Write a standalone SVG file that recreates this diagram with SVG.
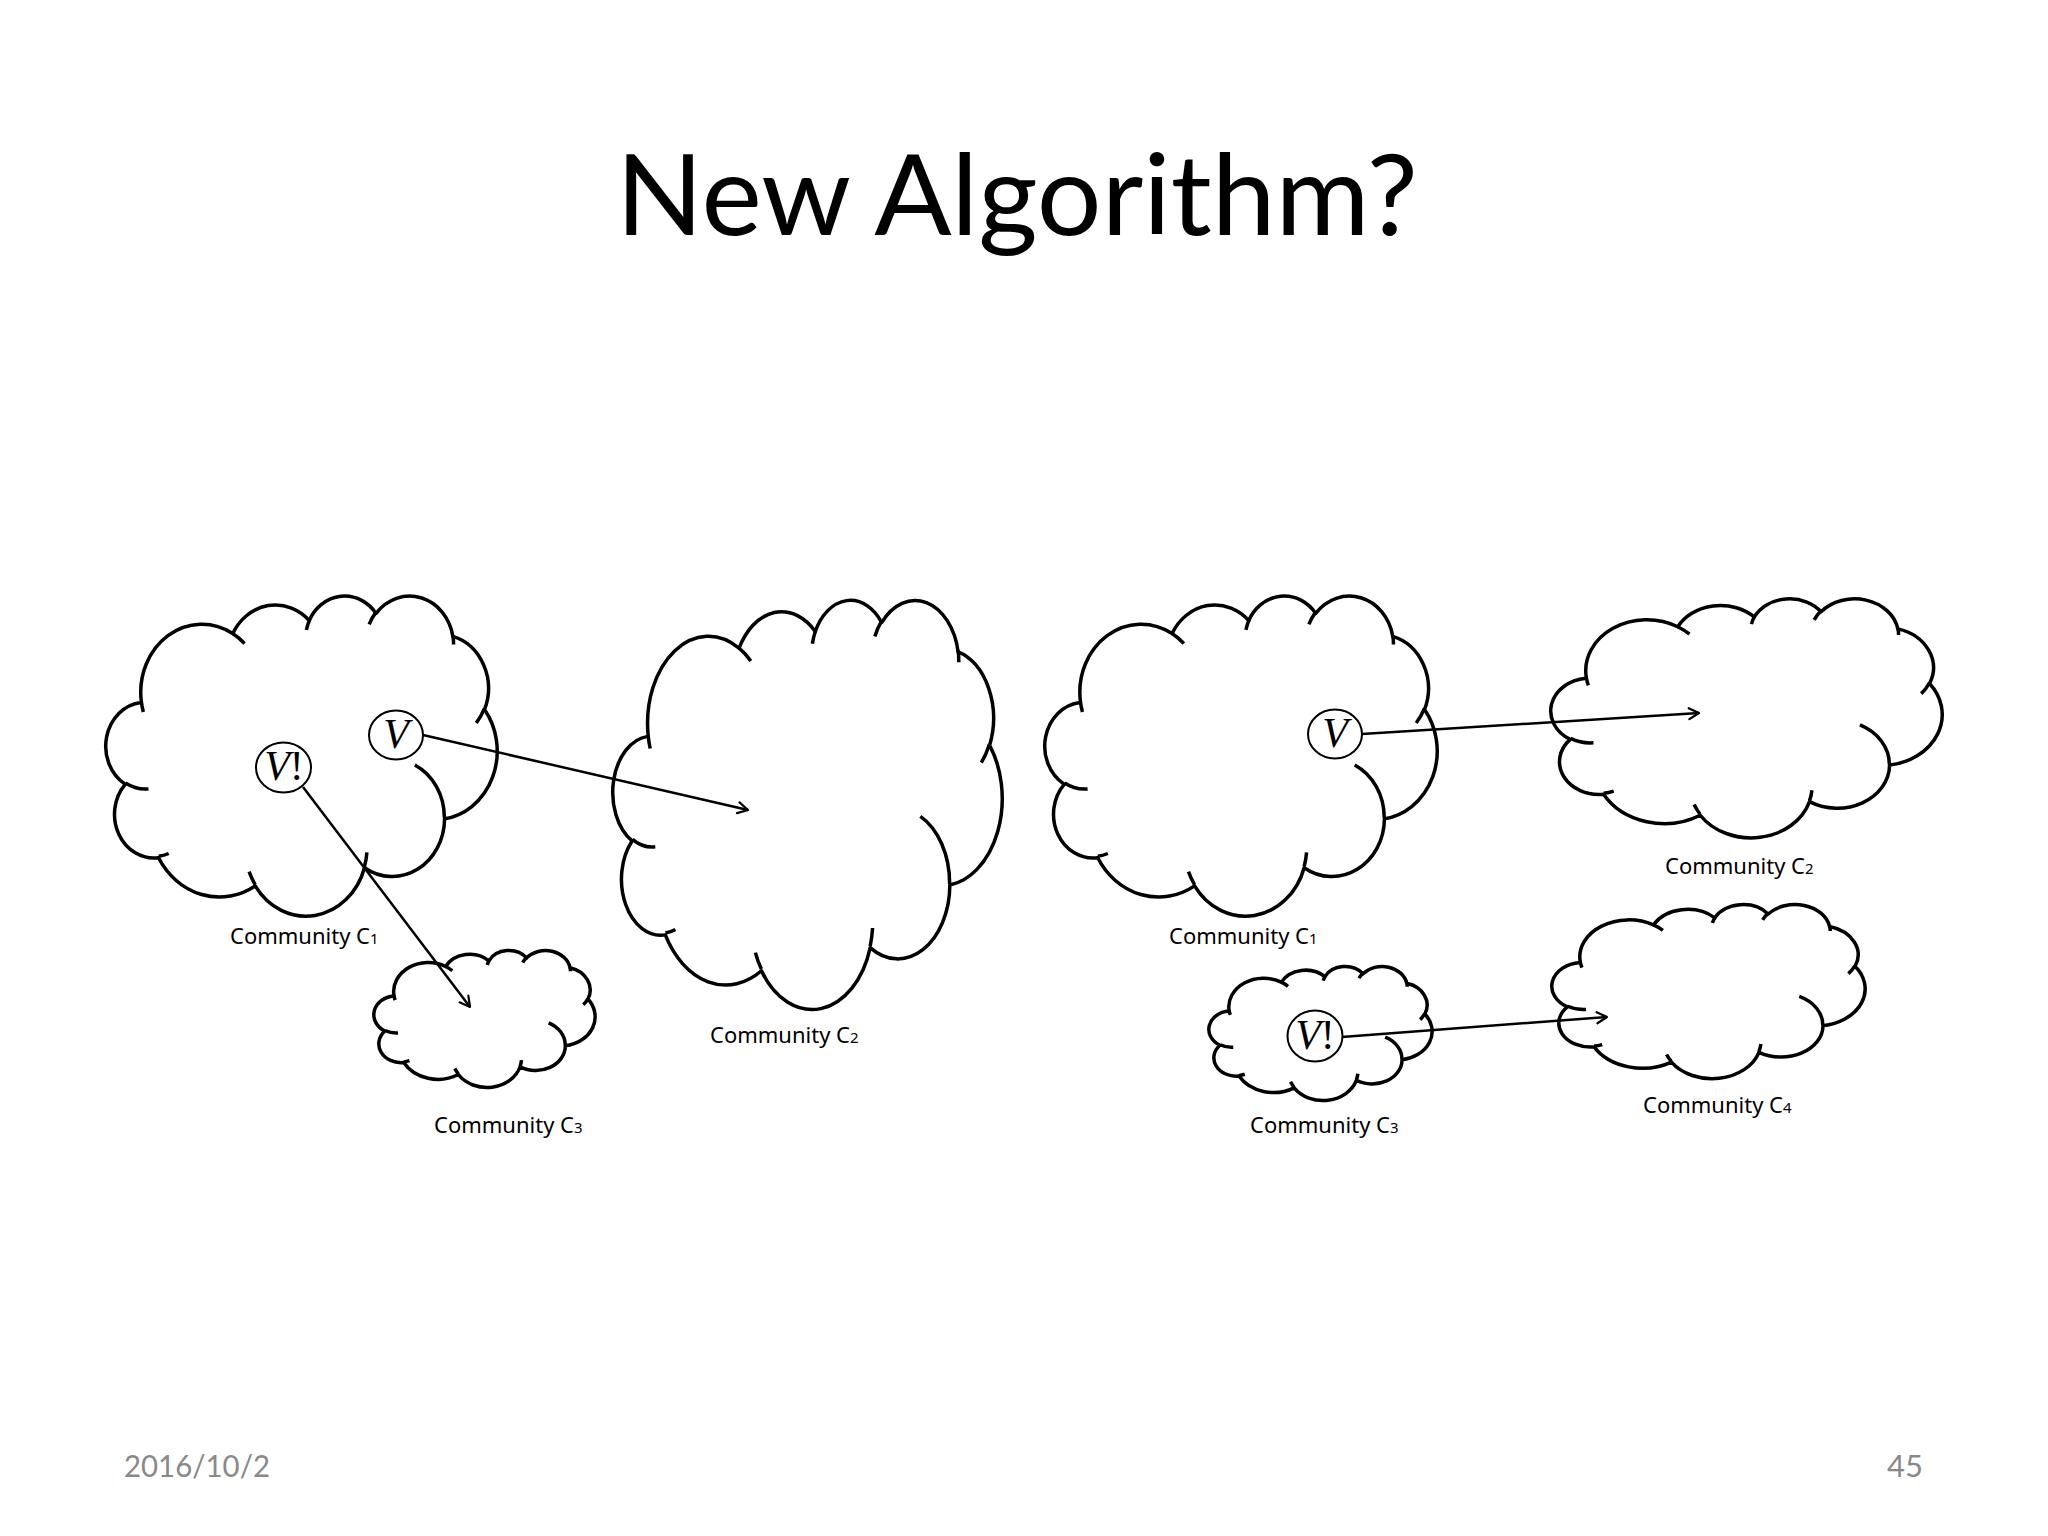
<svg xmlns="http://www.w3.org/2000/svg" xmlns:xlink="http://www.w3.org/1999/xlink" width="2048" height="1536" viewBox="0 0 2048 1536">
  <style>
    .cloud { fill: #ffffff; stroke: #000000; stroke-width: 3.5; vector-effect: non-scaling-stroke; stroke-linejoin: round; }
    .inner { fill: none; stroke: #000000; stroke-width: 3.5; vector-effect: non-scaling-stroke; }
    .node { fill: #ffffff; stroke: #000000; stroke-width: 2; }
    .nlabel { font-family: "Liberation Serif", "Times New Roman", serif; font-size: 42px; fill: #000000; }
    .label { font-family: "Noto Sans", "Liberation Sans", sans-serif; font-size: 22px; fill: #000000; }
    .sub { font-size: 15px; }
    .edge { fill: none; stroke: #000000; stroke-width: 2.5; marker-end: url(#arrow); }
    .foot { font-family: Lato, "Liberation Sans", sans-serif; font-size: 31px; fill: #898989; }
  </style>
  <defs>
    <marker id="arrow" viewBox="0 0 14 14" refX="12" refY="7" markerWidth="14" markerHeight="14" markerUnits="userSpaceOnUse" orient="auto">
      <path d="M2,1.5 L12,7 L2,12.5" fill="none" stroke="#000000" stroke-width="2.2" stroke-linecap="round" stroke-linejoin="round"/>
    </marker>
    <path id="cloudBody" class="cloud" d="M39 143.7 A67.53 91.9 0 0 1 140.05 52.02 A53.33 72.67 0 0 1 224.59 34.36 A43.65 59.45 0 0 1 298.36 24.84 A48.57 65.95 0 0 1 383.22 55.79 A53.33 72.73 0 0 1 418.22 154.63 A67.75 92.2 0 0 1 374.08 302.07 A57.85 78.67 0 0 1 285.6 368.18 A67.52 92.15 0 0 1 164.85 392.69 A77.2 105.43 0 0 1 58.08 354.76 A43.6 59.18 0 0 1 21.17 255.53 A43.45 59.45 0 0 1 38.67 145.1 Z"/>
    <path id="cloudInner" class="inner" d="M46.93 261.77 A43.45 59.45 0 0 1 21.6 253.8 M69.28 348.99 A43.6 59.18 0 0 1 58.2 352.81 M164.78 390.9 A67.52 92.15 0 0 1 158.1 373.48 M288.27 347.51 A67.52 92.15 0 0 1 285.6 366.6 M341.29 229.54 A57.85 78.67 0 0 1 373.81 300.9 M417.98 153.54 A53.33 72.73 0 0 1 409.06 172.83 M383.24 54.26 A48.57 65.95 0 0 1 384.0 66.9 M290.78 39.52 A48.57 65.95 0 0 1 298.2 23.4 M221.41 47.2 A43.65 59.45 0 0 1 225.0 33.31 M140.0 51.92 A67.53 91.9 0 0 1 153.04 65.46 M41.27 157.89 A67.53 91.9 0 0 1 39.0 143.7"/>
  </defs>

  <rect x="0" y="0" width="2048" height="1536" fill="#ffffff"/>

  <text x="616" y="235" textLength="802" lengthAdjust="spacingAndGlyphs" font-family="Lato, 'Liberation Sans', sans-serif" font-size="113" fill="#000000">New Algorithm?</text>

  <!-- Left diagram -->
  <g id="cloud-left-c1" transform="translate(106,595) scale(0.9051,0.7407)">
    <use xlink:href="#cloudBody"/>
    <use xlink:href="#cloudInner"/>
  </g>
  <g id="cloud-left-c2" transform="translate(613,599) scale(0.9005,0.9468)">
    <use xlink:href="#cloudBody"/>
    <use xlink:href="#cloudInner"/>
  </g>
  <g id="cloud-left-c3" transform="translate(374,950) scale(0.5116,0.3171)">
    <use xlink:href="#cloudBody"/>
    <use xlink:href="#cloudInner"/>
  </g>

  <!-- Right diagram -->
  <g id="cloud-right-c1" transform="translate(1045,595) scale(0.9074,0.7407)">
    <use xlink:href="#cloudBody"/>
    <use xlink:href="#cloudInner"/>
  </g>
  <g id="cloud-right-c2" transform="translate(1551,598) scale(0.9051,0.5532)">
    <use xlink:href="#cloudBody"/>
    <use xlink:href="#cloudInner"/>
  </g>
  <g id="cloud-right-c3" transform="translate(1209,966) scale(0.5162,0.3102)">
    <use xlink:href="#cloudBody"/>
    <use xlink:href="#cloudInner"/>
  </g>
  <g id="cloud-right-c4" transform="translate(1552,904) scale(0.7245,0.4028)">
    <use xlink:href="#cloudBody"/>
    <use xlink:href="#cloudInner"/>
  </g>

  <g id="labels">
    <text class="label" x="230" y="944">Community C<tspan class="sub">1</tspan></text>
    <text class="label" x="710" y="1043">Community C<tspan class="sub">2</tspan></text>
    <text class="label" x="434" y="1133">Community C<tspan class="sub">3</tspan></text>
    <text class="label" x="1169" y="944">Community C<tspan class="sub">1</tspan></text>
    <text class="label" x="1665" y="874">Community C<tspan class="sub">2</tspan></text>
    <text class="label" x="1250" y="1133">Community C<tspan class="sub">3</tspan></text>
    <text class="label" x="1643" y="1113">Community C<tspan class="sub">4</tspan></text>
  </g>

  <g id="connectors">
    <line class="edge" x1="423" y1="735" x2="748" y2="810"/>
    <line class="edge" x1="303" y1="787" x2="470" y2="1007"/>
    <line class="edge" x1="1362" y1="734" x2="1699" y2="713"/>
    <line class="edge" x1="1342" y1="1037" x2="1607" y2="1017"/>
  </g>

  <g id="node-left-v">
    <ellipse class="node" cx="396" cy="735" rx="27" ry="24.5"/>
    <text class="nlabel" x="396" y="748" text-anchor="middle" font-style="italic">V</text>
  </g>
  <g id="node-left-vprime">
    <ellipse class="node" cx="283.5" cy="767.5" rx="27.5" ry="25"/>
    <text class="nlabel" x="284" y="780" text-anchor="middle"><tspan font-style="italic">V</tspan>!</text>
  </g>
  <g id="node-right-v">
    <ellipse class="node" cx="1335" cy="734" rx="27" ry="24.5"/>
    <text class="nlabel" x="1335" y="747" text-anchor="middle" font-style="italic">V</text>
  </g>
  <g id="node-right-vprime">
    <ellipse class="node" cx="1315" cy="1036" rx="27.5" ry="25.5"/>
    <text class="nlabel" x="1315" y="1049" text-anchor="middle"><tspan font-style="italic">V</tspan>!</text>
  </g>

  <text class="foot" x="124" y="1477" textLength="146" lengthAdjust="spacingAndGlyphs">2016/10/2</text>
  <text class="foot" x="1923" y="1477" text-anchor="end">45</text>
</svg>
